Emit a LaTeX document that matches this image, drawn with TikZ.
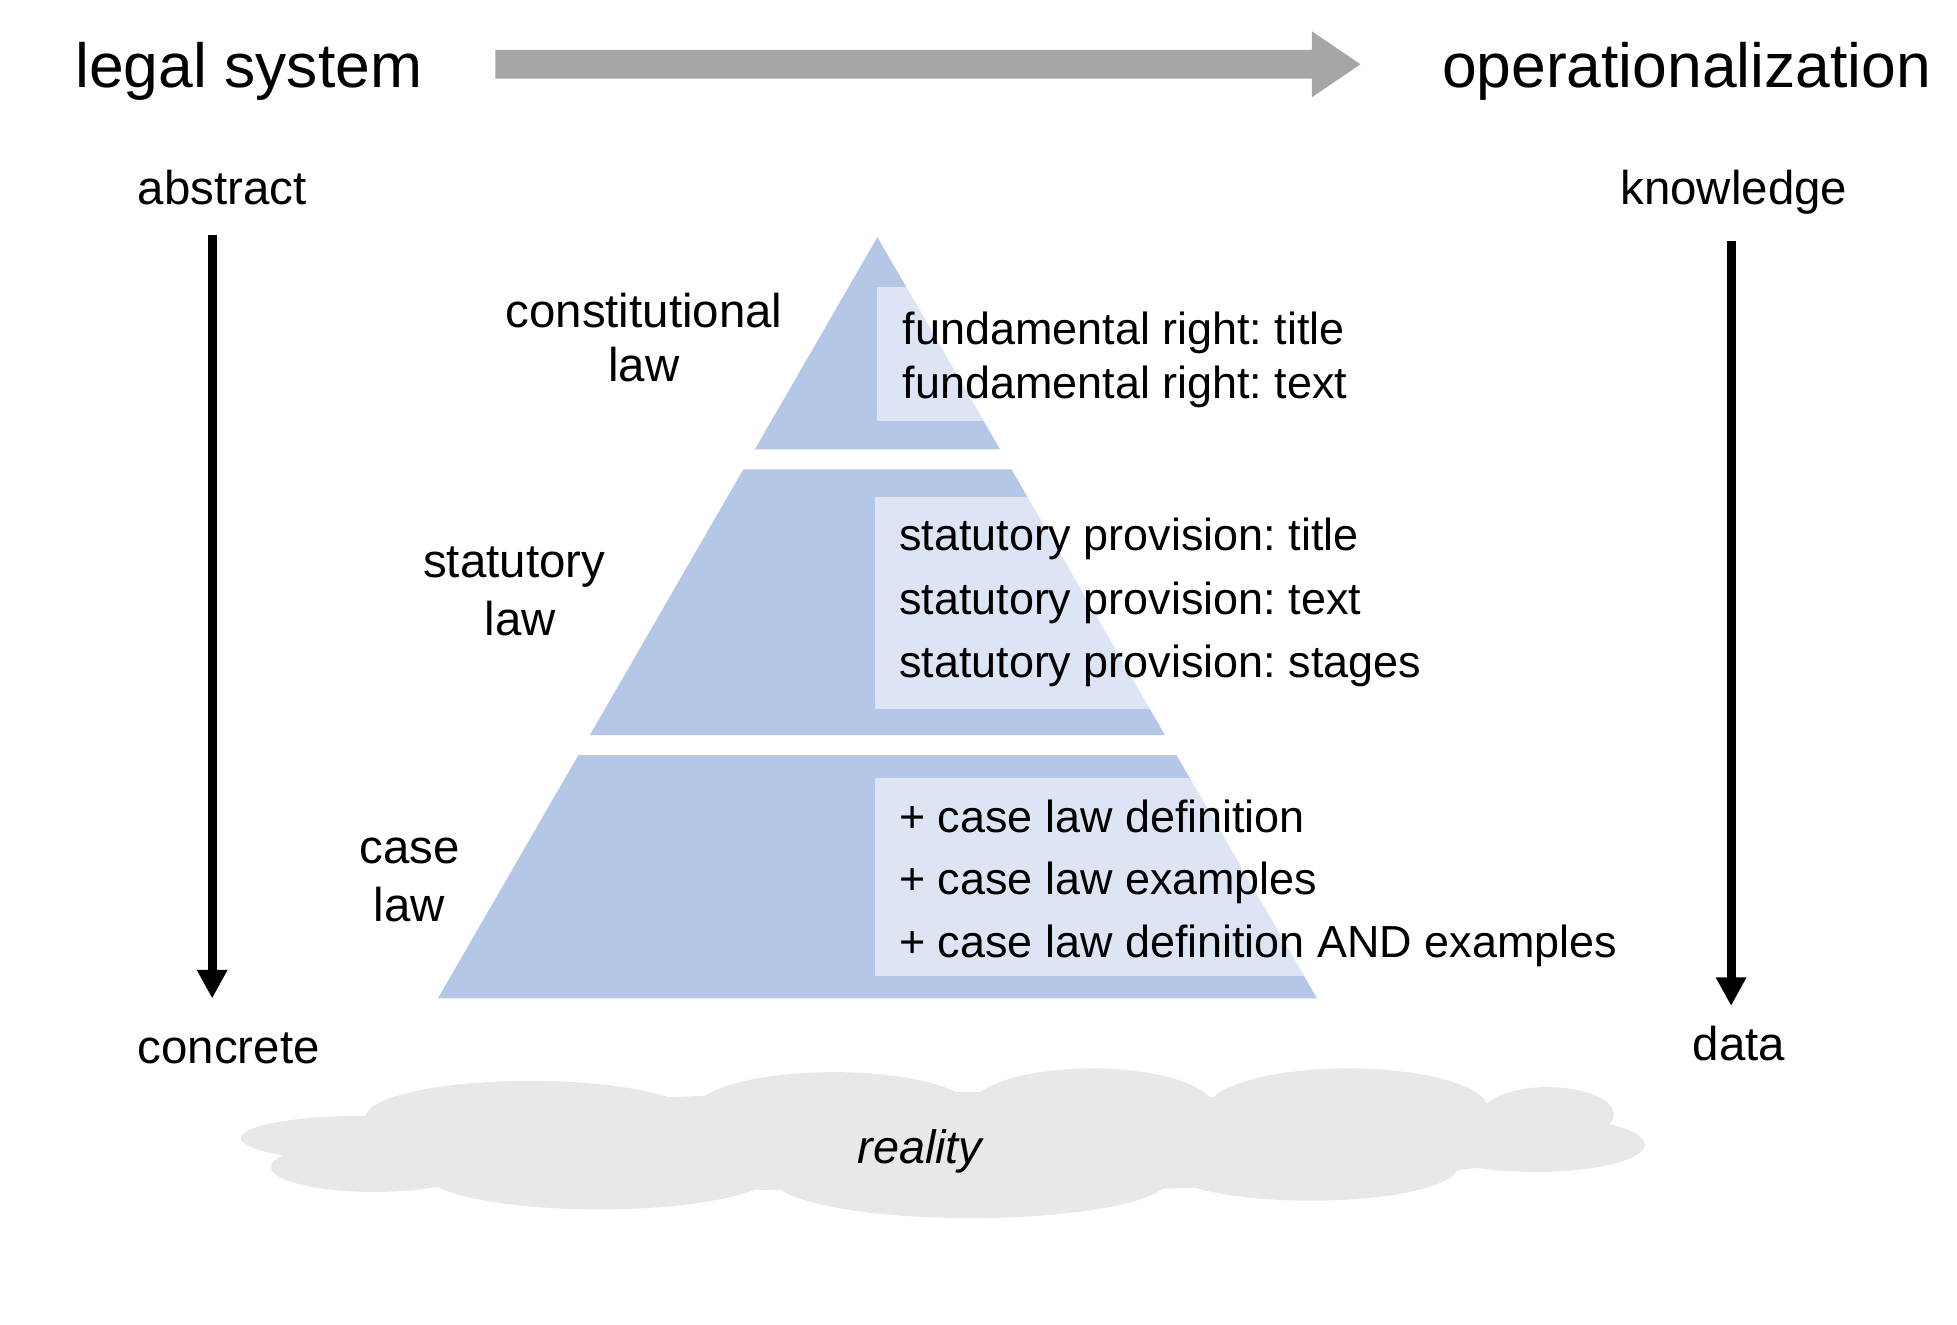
\documentclass[tikz,border=0pt]{standalone}
\usepackage{fontspec}
\setmainfont{Liberation Sans}
\usetikzlibrary{arrows.meta}
\definecolor{pyr}{HTML}{B4C7E7}
\definecolor{cloudc}{HTML}{E8E8E8}
\definecolor{garrow}{HTML}{A6A6A6}
\frenchspacing
\begin{document}
\begin{tikzpicture}[x=0.5pt,y=-0.5pt,
  title/.style={inner sep=0pt,font=\fontsize{25}{30}\selectfont},
  side/.style={inner sep=0pt,font=\fontsize{19}{23}\selectfont},
  tier/.style={inner sep=0pt,font=\fontsize{19}{23}\selectfont},
  item/.style={inner sep=0pt,anchor=base west,font=\fontsize{18}{22}\selectfont},
  tierfill/.style={fill=pyr,draw=none},
  lightbox/.style={fill=white,fill opacity=0.55,draw=none},
  blackarrow/.style={line width=3.6pt,-{Triangle[width=11.5pt,length=11.5pt]}},
  lobe/.style={fill=cloudc,draw=none}]
\useasboundingbox (0,0) rectangle (1568,1061);

% titles
\node[title,anchor=base west] (legal) at (60,70) {legal system};
\node[title,anchor=base west] (oper) at (1155,70) {operationalization};
\fill[garrow] (397,40) -- (1051,40) -- (1051,25) -- (1090,51.5) -- (1051,78) -- (1051,63) -- (397,63) -- cycle;

% side labels
\node[side,anchor=base west] (abstract) at (110,164) {abstract};
\node[side,anchor=base west] (concrete) at (110,852) {concrete};
\node[side,anchor=base west] (knowledge) at (1298,164) {knowledge};
\node[side,anchor=base west] (data) at (1356,850) {data};
\coordinate (la1) at (170,188);
\coordinate (la2) at (170,800);
\coordinate (ra1) at (1387,193);
\coordinate (ra2) at (1387,806);
\draw[blackarrow] (la1) -- (la2);
\draw[blackarrow] (ra1) -- (ra2);

% pyramid tiers
\def\tierA{(703,190) -- (604.8,360) -- (801.2,360) -- cycle}
\def\tierB{(595.6,376) -- (810.4,376) -- (933.4,589) -- (472.6,589) -- cycle}
\def\tierC{(463.4,605) -- (942.6,605) -- (1055.2,800) -- (350.8,800) -- cycle}
\fill[pyr] \tierA;
\fill[pyr] \tierB;
\fill[pyr] \tierC;
\begin{scope}
  \clip \tierA;
  \fill[lightbox] (703,230) rectangle (1100,337);
\end{scope}
\begin{scope}
  \clip \tierB;
  \fill[lightbox] (701,398) rectangle (1150,568);
\end{scope}
\begin{scope}
  \clip \tierC;
  \fill[lightbox] (701,623) rectangle (1310,782);
\end{scope}

% tier labels
\node[tier,anchor=base] (con1) at (516,262) {constitutional};
\node[tier,anchor=base] (con2) at (516,306) {law};
\node[tier,anchor=base] (sta1) at (412,463) {statutory};
\node[tier,anchor=base] (sta2) at (417,509) {law};
\node[tier,anchor=base] (cas1) at (328,692) {case};
\node[tier,anchor=base] (cas2) at (328,738) {law};

% items
\node[item] (f1) at (723,276) {fundamental right: title};
\node[item] (f2) at (723,319) {fundamental right: text};
\node[item] (s1) at (720,441) {statutory provision: title};
\node[item] (s2) at (720,492) {statutory provision: text};
\node[item] (s3) at (720,543) {statutory provision: stages};
\node[item] (c1) at (720,667) {+ case law definition};
\node[item] (c2) at (720,717) {+ case law examples};
\node[item] (c3) at (720,767) {+ case law definition AND examples};

% cloud
\fill[lobe] (755,915) ellipse [x radius=500,y radius=40];
\fill[lobe] (290,912) ellipse [x radius=97,y radius=18];
\fill[lobe] (300,935) ellipse [x radius=83,y radius=20];
\fill[lobe] (425,895) ellipse [x radius=132,y radius=29];
\fill[lobe] (480,940) ellipse [x radius=140,y radius=29];
\fill[lobe] (668,890) ellipse [x radius=112,y radius=31];
\fill[lobe] (778,945) ellipse [x radius=158,y radius=31];
\fill[lobe] (875,888) ellipse [x radius=98,y radius=32];
\fill[lobe] (1080,888) ellipse [x radius=112,y radius=32];
\fill[lobe] (1050,935) ellipse [x radius=118,y radius=27];
\fill[lobe] (1240,893) ellipse [x radius=53,y radius=22];
\fill[lobe] (1230,917) ellipse [x radius=88,y radius=22];
\node[inner sep=0pt,anchor=base,font=\fontsize{18.75}{22}\selectfont\itshape] (reality) at (737,932) {reality};
\end{tikzpicture}
\end{document}
